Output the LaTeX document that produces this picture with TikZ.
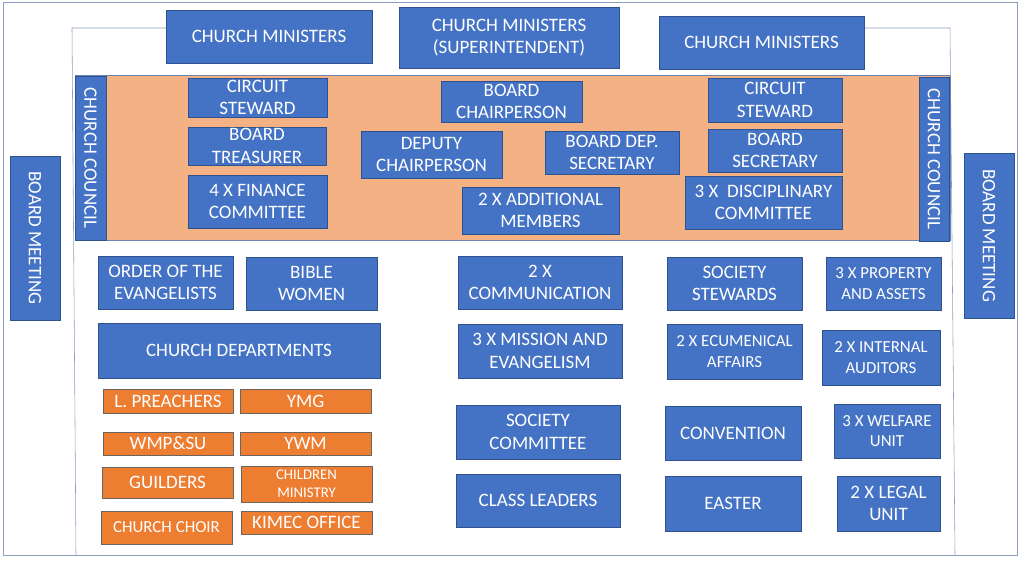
\documentclass[tikz,border=0pt]{standalone}
\usepackage{fontspec}
\setmainfont{Carlito}
\definecolor{boxblue}{RGB}{68,114,196}
\definecolor{boxline}{RGB}{47,82,143}
\definecolor{bandfill}{RGB}{244,177,131}
\definecolor{deptfill}{RGB}{237,125,49}
\definecolor{deptline}{RGB}{110,100,95}
\definecolor{frameline}{RGB}{140,158,190}
\tikzset{
  bluebox/.style={draw=boxline, fill=boxblue, text=white, align=center, inner sep=1pt,
    font=\fontsize{13.5}{16}\selectfont},
  orangebox/.style={draw=deptline, fill=deptfill, text=white, align=center, inner sep=1pt,
    font=\fontsize{13.5}{16}\selectfont},
  bandbox/.style={draw=boxline!70, fill=bandfill, inner sep=0pt},
  smalltext/.style={font=\fontsize{12}{14.5}\selectfont},
  tinytext/.style={font=\fontsize{10.5}{12.5}\selectfont},
}
% style, name, left, top, right, bottom, text (pixel units)
\newcommand{\orgbox}[7]{\node[#1, minimum width={(#5-#3)*0.025cm}, minimum height={(#6-#4)*0.025cm}]
  (#2) at ({(#3+#5)/2},{(#4+#6)/2}) {#7};}

\begin{document}
\begin{tikzpicture}[x=0.025cm, y=-0.025cm]
  \useasboundingbox (0,0) rectangle (1024,562);
  % frames
  \draw[frameline] (3,2) rectangle (1017,555);
  \draw[frameline] (166,28) -- (72,28) -- (76,555);
  \draw[frameline] (864,28) -- (950,28) -- (955,555);

  % church council band
  \orgbox{bandbox}{band}{75}{75}{950}{240}{}
  \node[bluebox, rotate=-90, minimum width={164*0.025cm}, minimum height={31*0.025cm}]
    (councilL) at (90.5,158) {CHURCH COUNCIL};
  \node[bluebox, rotate=-90, minimum width={164*0.025cm}, minimum height={30*0.025cm}]
    (councilR) at (934,159) {CHURCH COUNCIL};
  \node[bluebox, rotate=-90, minimum width={164*0.025cm}, minimum height={50*0.025cm}]
    (meetingL) at (35,238) {BOARD MEETING};
  \node[bluebox, rotate=-90, minimum width={165*0.025cm}, minimum height={50*0.025cm}]
    (meetingR) at (989,235.5) {BOARD MEETING};

  % ministers
  \orgbox{bluebox}{ministersL}{166}{10}{372}{63}{CHURCH MINISTERS}
  \orgbox{bluebox}{super}{399}{7}{619}{68}{CHURCH MINISTERS\\(SUPERINTENDENT)}
  \orgbox{bluebox}{ministersR}{659}{16}{864}{69}{CHURCH MINISTERS}

  % board
  \orgbox{bluebox}{stewardL}{188}{78}{327}{117}{CIRCUIT\\STEWARD}
  \orgbox{bluebox}{treasurer}{188}{127}{326}{165}{BOARD\\TREASURER}
  \orgbox{bluebox}{finance}{188}{175}{327}{228}{4 X FINANCE\\COMMITTEE}
  \orgbox{bluebox}{chair}{441}{81}{582}{122}{BOARD\\CHAIRPERSON}
  \orgbox{bluebox}{deputy}{361}{131}{502}{178}{DEPUTY\\CHAIRPERSON}
  \orgbox{bluebox}{depsec}{545}{131}{679}{174}{BOARD DEP.\\SECRETARY}
  \orgbox{bluebox}{members}{462}{187}{619}{234}{2 X ADDITIONAL\\MEMBERS}
  \orgbox{bluebox}{stewardR}{708}{78}{842}{122}{CIRCUIT\\STEWARD}
  \orgbox{bluebox}{secretary}{708}{129}{842}{172}{BOARD\\SECRETARY}
  \orgbox{bluebox}{discipline}{685}{176}{842}{229}{3 X\ \ DISCIPLINARY\\COMMITTEE}

  % left block
  \orgbox{bluebox}{evangelists}{98}{256}{233}{309}{ORDER OF THE\\EVANGELISTS}
  \orgbox{bluebox}{bible}{246}{257}{377}{310}{BIBLE\\WOMEN}
  \orgbox{bluebox}{depts}{98}{323}{380}{378}{CHURCH DEPARTMENTS}
  \orgbox{orangebox}{preachers}{103}{389}{233}{413}{L. PREACHERS}
  \orgbox{orangebox}{ymg}{240}{389}{371}{413}{YMG}
  \orgbox{orangebox}{wmp}{103}{432}{233}{455}{WMP\&SU}
  \orgbox{orangebox}{ywm}{240}{432}{371}{455}{YWM}
  \orgbox{orangebox}{guilders}{102}{467}{233}{498}{GUILDERS}
  \orgbox{orangebox, tinytext}{children}{241}{466}{372}{502}{CHILDREN\\MINISTRY}
  \orgbox{orangebox, smalltext}{choir}{101}{511}{232}{544}{CHURCH CHOIR}
  \orgbox{orangebox}{kimec}{241}{511}{372}{534}{KIMEC OFFICE}

  % right block
  \orgbox{bluebox}{communication}{458}{256}{622}{309}{2 X\\COMMUNICATION}
  \orgbox{bluebox}{mission}{458}{324}{622}{378}{3 X MISSION AND\\EVANGELISM}
  \orgbox{bluebox}{society}{456}{405}{620}{459}{SOCIETY\\COMMITTEE}
  \orgbox{bluebox}{leaders}{456}{474}{620}{527}{CLASS LEADERS}
  \orgbox{bluebox}{stewards}{667}{257}{802}{310}{SOCIETY\\STEWARDS}
  \orgbox{bluebox, smalltext}{ecumenical}{667}{324}{802}{379}{2 X ECUMENICAL\\AFFAIRS}
  \orgbox{bluebox}{convention}{665}{406}{801}{460}{CONVENTION}
  \orgbox{bluebox}{easter}{665}{476}{801}{531}{EASTER}
  \orgbox{bluebox, smalltext}{property}{826}{257}{941}{310}{3 X PROPERTY\\AND ASSETS}
  \orgbox{bluebox, smalltext}{auditors}{822}{330}{940}{385}{2 X INTERNAL\\AUDITORS}
  \orgbox{bluebox, smalltext}{welfare}{834}{404}{940}{458}{3 X WELFARE\\UNIT}
  \orgbox{bluebox}{legal}{837}{476}{940}{531}{2 X LEGAL\\UNIT}
\end{tikzpicture}
\end{document}
